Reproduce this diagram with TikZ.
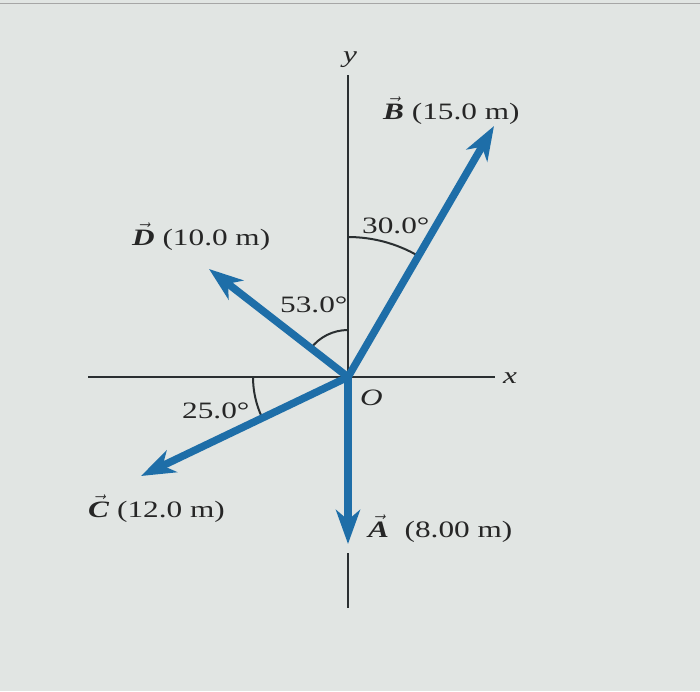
\documentclass[tikz,border=0pt]{standalone}
\usepackage{fontspec}
\setmainfont{Liberation Serif}[FakeStretch=1.33]
\usetikzlibrary{arrows.meta}
\definecolor{bg}{HTML}{E1E5E3}
\definecolor{vblue}{HTML}{1E6EA8}
\definecolor{axisc}{HTML}{2A2F31}
\tikzset{
  vec/.style={line width=7.5pt, color=vblue, -{Stealth[length=34pt, width=24pt, inset=10pt]}},
  axisline/.style={line width=2.6pt, color=axisc},
  anglearc/.style={line width=2pt, color=axisc},
  lbl/.style={anchor=base west, inner sep=0pt, text=black!85, font=\fontsize{23.5}{27}\selectfont},
}
\newcommand{\vlet}[1]{$\vec{\mbox{\textbf{\textit{#1}}}}$}
\begin{document}
\begin{tikzpicture}[x=1pt, y=-1pt]
\fill[bg] (0,0) rectangle (700,691);
\useasboundingbox (0,0) rectangle (700,691);
\draw[gray!70, line width=1pt] (0,3) -- (700,3);
% coordinates
\coordinate (O) at (348,377);
\coordinate (ytop) at (348,75);
\coordinate (ylow1) at (348,553);
\coordinate (ylow2) at (348,608);
\coordinate (xl) at (88,377);
\coordinate (xr) at (495,377);
\coordinate (Atip) at (348,544);
\coordinate (Btip) at (494,126);
\coordinate (Ctip) at (141,476);
\coordinate (Dtip) at (209,269);
% axes
\draw[axisline] (ytop) -- (O);
\draw[axisline] (ylow1) -- (ylow2);
\draw[axisline] (xl) -- (xr);
% angle arcs
\draw[anglearc] (O) ++(-90:140) arc[start angle=-90, end angle=-60, radius=140];
\draw[anglearc] (O) ++(-90:47) arc[start angle=-90, end angle=-143, radius=47];
\draw[anglearc] (O) ++(180:95) arc[start angle=180, end angle=155, radius=95];
% vectors
\draw[vec] (O) -- (Dtip);
\draw[vec] (O) -- (Ctip);
\draw[vec] (O) -- (Atip);
\draw[vec] (O) -- (Btip);
% labels
\node[lbl] (ylab) at (343,62) {\textit{y}};
\node[lbl] (xlab) at (503,383) {\textit{x}};
\node[lbl] (olab) at (360,405) {\textit{O}};
\node[lbl] (blab) at (383,119) {\vlet{B} (15.0 m)};
\node[lbl] (dlab) at (132,245) {\vlet{D} (10.0 m)};
\node[lbl] (clab) at (88,517) {\vlet{C} (12.0 m)};
\node[lbl] (alab) at (368,537) {\vlet{A}\ \ (8.00 m)};
\node[lbl] (a30) at (362,233) {30.0°};
\node[lbl] (a53) at (280,312) {53.0°};
\node[lbl] (a25) at (182,418) {25.0°};
\end{tikzpicture}
\end{document}
